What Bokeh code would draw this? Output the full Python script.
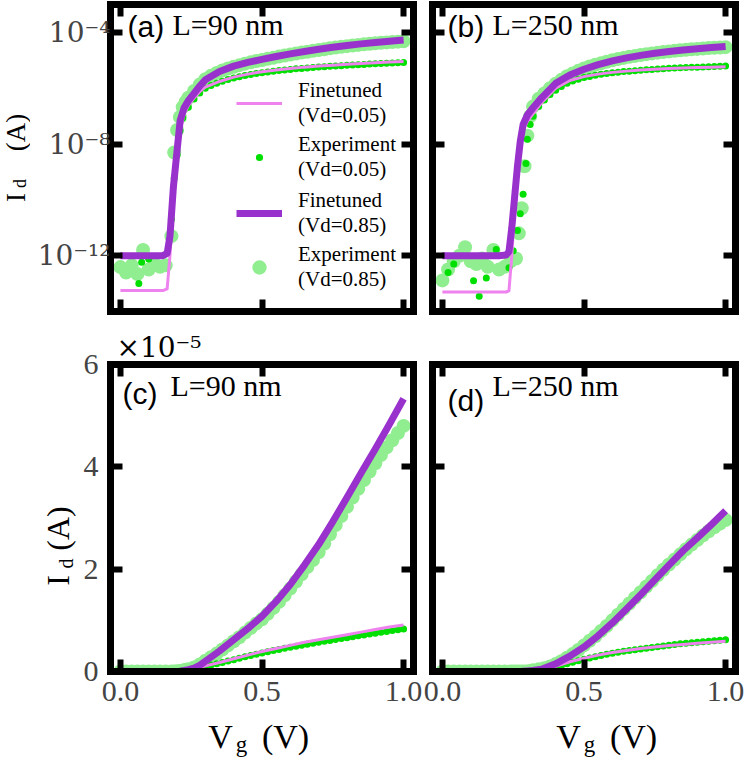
from math import pi
from bokeh.plotting import figure
from bokeh.layouts import row, column
from bokeh.models import (Range1d, FixedTicker, LinearAxis, LogAxis, Label, Legend, Title,
                          LegendItem, CustomJSTickFormatter, PrintfTickFormatter)
from bokeh.embed import file_html
from bokeh.resources import INLINE

# ---------------- data (drain current in A vs gate voltage in V) ----------------
x_ticks = [0.0, 0.5, 1.0]
log_ticks = [1e-12, 1e-8, 1e-4]
lin_ticks = [0.0, 2e-5, 4e-5, 6e-5]

# L = 90 nm, fitted curves
vg_fit_90 = [0.00, 0.05, 0.10, 0.15, 0.165, 0.175, 0.187, 0.199, 0.211, 0.225, 0.24, 0.26,
             0.28, 0.30, 0.35, 0.40, 0.45, 0.50, 0.55, 0.60, 0.65, 0.70, 0.75, 0.80, 0.85,
             0.90, 0.95, 1.00]
fit_90_vd085 = [1.0e-12, 1.0e-12, 1.0e-12, 1.0e-12, 1.2e-12, 5.0e-12, 2.8e-10, 4.5e-9, 7.0e-8,
                2.0e-7, 3.6e-7, 6.5e-7, 1.2e-6, 2.0e-6, 4.0e-6, 6.2e-6, 8.4e-6, 1.08e-5, 1.37e-5,
                1.70e-5, 2.08e-5, 2.48e-5, 2.93e-5, 3.40e-5, 3.88e-5, 4.35e-5, 4.83e-5, 5.33e-5]
fit_90_vd005 = [5.6e-14, 5.6e-14, 5.6e-14, 5.6e-14, 6.5e-14, 1.0e-12, 8.0e-11, 2.0e-9, 3.0e-8,
                1.2e-7, 2.4e-7, 4.5e-7, 7.5e-7, 1.1e-6, 1.75e-6, 2.5e-6, 3.2e-6, 3.9e-6, 4.5e-6,
                5.1e-6, 5.7e-6, 6.2e-6, 6.7e-6, 7.2e-6, 7.7e-6, 8.2e-6, 8.7e-6, 9.1e-6]

# L = 90 nm, experiment
vg_exp_90_vd085 = [0.00, 0.02, 0.04, 0.06, 0.08, 0.10, 0.12, 0.14, 0.16, 0.18, 0.19, 0.20, 0.21,
                   0.22, 0.23, 0.24, 0.26, 0.28, 0.30, 0.32, 0.34, 0.36, 0.38, 0.40, 0.42, 0.44,
                   0.46, 0.48, 0.50, 0.52, 0.54, 0.56, 0.58, 0.60, 0.62, 0.64, 0.66, 0.68, 0.70,
                   0.72, 0.74, 0.76, 0.78, 0.80, 0.82, 0.84, 0.86, 0.88, 0.90, 0.92, 0.94, 0.96,
                   0.98, 1.00]
exp_90_vd085 = [3.9e-13, 2.5e-13, 4.5e-13, 2.2e-13, 1.6e-12, 3.2e-13, 5.0e-13, 4.0e-13, 4.5e-13,
                5.0e-12, 5.0e-9, 3.2e-8, 9.3e-8, 2.1e-7, 3.2e-7, 4.6e-7, 8.0e-7, 1.35e-6, 2.1e-6,
                2.8e-6, 3.5e-6, 4.3e-6, 5.1e-6, 5.9e-6, 6.7e-6, 7.6e-6, 8.5e-6, 9.4e-6, 1.02e-5,
                1.13e-5, 1.24e-5, 1.36e-5, 1.49e-5, 1.62e-5, 1.76e-5, 1.90e-5, 2.04e-5, 2.18e-5,
                2.33e-5, 2.50e-5, 2.68e-5, 2.86e-5, 3.04e-5, 3.22e-5, 3.40e-5, 3.57e-5, 3.74e-5,
                3.91e-5, 4.07e-5, 4.23e-5, 4.38e-5, 4.52e-5, 4.66e-5, 4.80e-5]
vg_exp_90_vd005 = [0.065, 0.075, 0.10, 0.18, 0.19, 0.20, 0.21, 0.22, 0.24, 0.26, 0.28, 0.30,
                   0.32, 0.34, 0.36, 0.38, 0.40, 0.42, 0.44, 0.46, 0.48, 0.50, 0.52, 0.54, 0.56,
                   0.58, 0.60, 0.62, 0.64, 0.66, 0.68, 0.70, 0.72, 0.74, 0.76, 0.78, 0.80, 0.82,
                   0.84, 0.86, 0.88, 0.90, 0.92, 0.94, 0.96, 0.98, 1.00]
exp_90_vd005 = [1.0e-13, 5.8e-13, 7.6e-13, 2.0e-11, 6.0e-10, 4.0e-9, 3.0e-8, 8.5e-8, 2.1e-7,
                4.1e-7, 6.8e-7, 1.0e-6, 1.25e-6, 1.5e-6, 1.78e-6, 2.05e-6, 2.32e-6, 2.6e-6,
                2.87e-6, 3.13e-6, 3.38e-6, 3.62e-6, 3.85e-6, 4.08e-6, 4.3e-6, 4.52e-6, 4.73e-6,
                4.94e-6, 5.14e-6, 5.34e-6, 5.53e-6, 5.72e-6, 5.9e-6, 6.08e-6, 6.26e-6, 6.44e-6,
                6.62e-6, 6.8e-6, 6.97e-6, 7.14e-6, 7.31e-6, 7.48e-6, 7.65e-6, 7.82e-6, 7.99e-6,
                8.16e-6, 8.33e-6]

# L = 250 nm, fitted curves
vg_fit_250 = [0.00, 0.05, 0.10, 0.15, 0.20, 0.225, 0.235, 0.245, 0.255, 0.265, 0.275, 0.285,
              0.30, 0.32, 0.35, 0.40, 0.45, 0.50, 0.55, 0.60, 0.65, 0.70, 0.75, 0.80, 0.85,
              0.90, 0.95, 1.00]
fit_250_vd085 = [1.0e-12, 1.0e-12, 1.0e-12, 1.0e-12, 1.0e-12, 1.05e-12, 1.4e-12, 1.0e-11,
                 1.26e-10, 1.6e-9, 1.26e-8, 5.0e-8, 1.1e-7, 2.0e-7, 4.5e-7, 1.5e-6, 3.0e-6,
                 4.8e-6, 7.0e-6, 9.5e-6, 1.22e-5, 1.50e-5, 1.79e-5, 2.08e-5, 2.36e-5, 2.61e-5,
                 2.87e-5, 3.14e-5]
fit_250_vd005 = [5.0e-14, 5.0e-14, 5.0e-14, 5.0e-14, 5.0e-14, 5.0e-14, 5.5e-14, 1.0e-12,
                 5.0e-11, 1.0e-9, 8.0e-9, 3.0e-8, 6.5e-8, 1.2e-7, 3.0e-7, 1.0e-6, 1.9e-6,
                 2.6e-6, 3.2e-6, 3.7e-6, 4.1e-6, 4.5e-6, 4.8e-6, 5.1e-6, 5.3e-6, 5.5e-6,
                 5.7e-6, 5.9e-6]

# L = 250 nm, experiment
vg_exp_250_vd085 = [0.00, 0.02, 0.04, 0.06, 0.08, 0.10, 0.12, 0.14, 0.16, 0.18, 0.20, 0.22,
                    0.24, 0.25, 0.26, 0.27, 0.28, 0.29, 0.30, 0.31, 0.32, 0.34, 0.36, 0.38,
                    0.40, 0.42, 0.44, 0.46, 0.48, 0.50, 0.52, 0.54, 0.56, 0.58, 0.60, 0.62,
                    0.64, 0.66, 0.68, 0.70, 0.72, 0.74, 0.76, 0.78, 0.80, 0.82, 0.84, 0.86,
                    0.88, 0.90, 0.92, 0.94, 0.96, 0.98, 1.00]
exp_250_vd085 = [1.3e-13, 3.2e-13, 6.3e-13, 1.0e-12, 2.0e-12, 6.3e-13, 5.0e-13, 7.9e-13,
                 4.0e-13, 1.6e-12, 3.2e-13, 4.0e-13, 6.3e-13, 7.9e-13, 7.9e-13, 6.3e-12,
                 5.0e-11, 1.6e-9, 2.0e-8, 1.0e-7, 2.2e-7, 4.2e-7, 6.5e-7, 1.0e-6, 1.45e-6,
                 2.0e-6, 2.7e-6, 3.4e-6, 4.2e-6, 5.1e-6, 6.0e-6, 6.9e-6, 7.9e-6, 8.9e-6,
                 1.00e-5, 1.11e-5, 1.22e-5, 1.33e-5, 1.44e-5, 1.55e-5, 1.66e-5, 1.77e-5,
                 1.88e-5, 1.99e-5, 2.09e-5, 2.19e-5, 2.29e-5, 2.39e-5, 2.48e-5, 2.57e-5,
                 2.66e-5, 2.74e-5, 2.82e-5, 2.89e-5, 2.96e-5]
vg_exp_250_vd005 = [0.02, 0.04, 0.11, 0.13, 0.155, 0.19, 0.235, 0.25, 0.265, 0.275, 0.285,
                    0.295, 0.30, 0.31, 0.32, 0.34, 0.36, 0.38, 0.40, 0.42, 0.44, 0.46, 0.48,
                    0.50, 0.52, 0.54, 0.56, 0.58, 0.60, 0.62, 0.64, 0.66, 0.68, 0.70, 0.72,
                    0.74, 0.76, 0.78, 0.80, 0.82, 0.84, 0.86, 0.88, 0.90, 0.92, 0.94, 0.96,
                    0.98, 1.00]
exp_250_vd005 = [2.5e-13, 5.0e-13, 1.26e-13, 3.5e-14, 1.6e-13, 1.66e-12, 3.7e-13, 1.5e-12,
                 8.0e-12, 3.2e-11, 1.6e-10, 2.0e-9, 1.5e-8, 5.0e-8, 1.0e-7, 2.2e-7, 3.8e-7,
                 6.0e-7, 8.5e-7, 1.15e-6, 1.5e-6, 1.8e-6, 2.1e-6, 2.4e-6, 2.65e-6, 2.9e-6,
                 3.15e-6, 3.35e-6, 3.55e-6, 3.75e-6, 3.95e-6, 4.1e-6, 4.25e-6, 4.4e-6, 4.55e-6,
                 4.7e-6, 4.85e-6, 5.0e-6, 5.15e-6, 5.3e-6, 5.4e-6, 5.5e-6, 5.6e-6, 5.7e-6,
                 5.8e-6, 5.9e-6, 6.0e-6, 6.1e-6, 6.2e-6]

for a, b in [(vg_fit_90, fit_90_vd085), (vg_fit_90, fit_90_vd005), (vg_exp_90_vd085, exp_90_vd085),
             (vg_exp_90_vd005, exp_90_vd005), (vg_fit_250, fit_250_vd085), (vg_fit_250, fit_250_vd005),
             (vg_exp_250_vd085, exp_250_vd085), (vg_exp_250_vd005, exp_250_vd005)]:
    assert len(a) == len(b), (len(a), len(b))

# ---------------- style ----------------
SERIF = "Liberation Serif"
SANS = "Liberation Sans"
MATH = "DejaVu Serif"
C_BIG = "#90ee90"
C_SMALL = "#00e000"
C_PINK = "#ee82ee"
C_PURPLE = "#9932cc"
FRAME_W, FRAME_H = 303, 307

TOP_H = 327          # height of the top row
BOT_TOP = 37         # top border of the bottom panels (holds the x10^-5 title)
BOT_BOT = 45         # bottom border of the bottom panels
BOT_H = BOT_TOP + FRAME_H + BOT_BOT
XLAB_H = 762 - TOP_H - BOT_H
YLAB_TOP_W = 30
YLAB_BOT_W = 80

SUP_JS = ("const s={'-':'\u207b','0':'\u2070','1':'\u00b9','2':'\u00b2','3':'\u00b3',"
          "'4':'\u2074','5':'\u2075','6':'\u2076','7':'\u2077','8':'\u2078','9':'\u2079'};"
          "const e=Math.round(Math.log10(tick));"
          "return '10'+String(e).split('').map(c=>s[c]).join('');")


def style_axis(ax, ticks):
    ax.ticker = FixedTicker(ticks=ticks)
    ax.axis_line_color = "black"
    ax.axis_line_width = 7
    ax.axis_line_cap = "square"
    ax.major_tick_in = 12
    ax.major_tick_out = 0
    ax.major_tick_line_width = 6
    ax.major_tick_line_color = "black"
    ax.minor_tick_line_color = None


def hide_labels(ax):
    ax.formatter = CustomJSTickFormatter(code="return ''")
    ax.major_label_text_font_size = "1px"
    ax.major_label_standoff = 0


def add_label(p, text, x, y, font, size, angle=0.0, align="left", baseline="alphabetic"):
    p.add_layout(Label(x=x, y=y, x_units="screen", y_units="screen", text=text,
                       text_font=font, text_font_size=f"{size}px", text_color="black",
                       text_align=align, text_baseline=baseline, angle=angle))


def centered(p, text, x, y, font, size, angle=0.0):
    add_label(p, text, x, y, font, size, angle, "center", "middle")


def make_panel(log, show_x, show_y, mb, data):
    kw = dict(frame_width=FRAME_W, frame_height=FRAME_H, output_backend="svg",
              toolbar_location=None, x_range=Range1d(-0.035, 1.035),
              min_border_left=mb[0], min_border_right=mb[1], min_border_top=mb[2],
              min_border_bottom=mb[3], background_fill_color="white",
              border_fill_color="white")
    if log:
        p = figure(y_axis_type="log", y_range=Range1d(1e-14, 1e-3), **kw)
    else:
        p = figure(y_range=Range1d(0, 6e-5), **kw)
    p.outline_line_color = None
    p.grid.visible = False
    p.add_layout(LogAxis() if log else LinearAxis(), "right")
    p.add_layout(LinearAxis(), "above")
    for ax in p.xaxis:
        style_axis(ax, x_ticks)
    for ax in p.yaxis:
        style_axis(ax, log_ticks if log else lin_ticks)
    hide_labels(p.right[0])
    hide_labels(p.above[0])
    bx = p.below[0]
    ly = p.left[0]
    if show_x:
        bx.formatter = PrintfTickFormatter(format="%.1f")
        bx.major_label_text_font = SERIF
        bx.major_label_text_font_size = "30px"
        bx.major_label_standoff = 10
    else:
        hide_labels(bx)
    if show_y:
        if log:
            ly.formatter = CustomJSTickFormatter(code=SUP_JS)
            ly.major_label_text_font = MATH
            ly.major_label_text_font_size = "28px"
            ly.major_label_standoff = 0
        else:
            ly.formatter = CustomJSTickFormatter(code="return (tick/1e-5).toFixed(0);")
            ly.major_label_text_font = SERIF
            ly.major_label_text_font_size = "30px"
            ly.major_label_standoff = 12
    else:
        hide_labels(ly)

    vf, f085, f005, vb, e085, vs, e005 = data
    r_big = p.scatter(vb, e085, size=14, color=C_BIG, line_color=None)
    r_small = p.scatter(vs, e005, size=7, color=C_SMALL, line_color=None)
    r_pink = p.line(vf, f005, line_width=3, color=C_PINK, line_join="round")
    r_purple = p.line(vf, f085, line_width=7, color=C_PURPLE, line_join="round")
    return p, (r_pink, r_small, r_purple, r_big)


def text_strip(w, h):
    p = figure(frame_width=w, frame_height=h, min_border=0, output_backend="svg",
               toolbar_location=None, x_axis_location=None, y_axis_location=None,
               x_range=Range1d(0, 1), y_range=Range1d(0, 1),
               background_fill_color="white", border_fill_color="white")
    p.outline_line_color = None
    p.grid.visible = False
    return p


data_90 = (vg_fit_90, fit_90_vd085, fit_90_vd005, vg_exp_90_vd085, exp_90_vd085,
           vg_exp_90_vd005, exp_90_vd005)
data_250 = (vg_fit_250, fit_250_vd085, fit_250_vd005, vg_exp_250_vd085, exp_250_vd085,
            vg_exp_250_vd005, exp_250_vd005)

top_bb = TOP_H - 4 - FRAME_H
pa, ra = make_panel(True, False, True, (110 - YLAB_TOP_W, 10, 4, top_bb), data_90)
pb, rb = make_panel(True, False, False, (9, 10, 4, top_bb), data_250)
pc, rc = make_panel(False, True, True, (110 - YLAB_BOT_W, 10, BOT_TOP, BOT_BOT), data_90)
pd, rd = make_panel(False, True, False, (9, 10, BOT_TOP, BOT_BOT), data_250)

# panel titles
add_label(pa, "(a)", 17, 285, SANS, 30)
add_label(pa, "L=90 nm", 62, 287, SERIF, 30)
add_label(pb, "(b)", 15, 285, SANS, 30)
add_label(pb, "L=250 nm", 60, 287, SERIF, 30)
add_label(pc, "(c)", 12, 278, SANS, 30)
add_label(pc, "L=90 nm", 60, 286, SERIF, 30)
add_label(pd, "(d)", 15, 271, SANS, 30)
add_label(pd, "L=250 nm", 60, 286, SERIF, 30)

# scale factor of panel (c)
pc.add_layout(Title(text="\u00d710\u207b\u2075", align="left", offset=6, standoff=2,
                    text_font=MATH, text_font_size="28px", text_font_style="normal",
                    text_color="black"), "above")

# y axis titles  I_d (A)  (centres of the pieces, measured from the strip's bottom-left)
fy_top = text_strip(YLAB_TOP_W, TOP_H)
centered(fy_top, "I", 15, TOP_H - 193, SERIF, 27, pi / 2)
centered(fy_top, "d", 19.5, TOP_H - 179, SERIF, 18, pi / 2)
centered(fy_top, "(A)", 15, TOP_H - 128, SERIF, 27, pi / 2)

fy_bot = text_strip(YLAB_BOT_W, BOT_H)
bot_abs = TOP_H + BOT_H
centered(fy_bot, "I", 57, bot_abs - 543, SERIF, 32, pi / 2)
centered(fy_bot, "d", 65, bot_abs - 526, SERIF, 20, pi / 2)
centered(fy_bot, "(A)", 57, bot_abs - 491, SERIF, 32, pi / 2)

# x axis titles  V_g (V)
fx = text_strip(745, XLAB_H)
for xv, xg, xp in ((220, 241, 285), (568, 589, 633)):
    centered(fx, "V", xv, 26.5, SERIF, 34)
    centered(fx, "g", xg, 17.8, SERIF, 23)
    centered(fx, "(V)", xp, 26.5, SERIF, 34)

# legend (one Legend per entry so that marker sizes differ)
legend_specs = [
    (ra[0], "Finetuned\n(Vd=0.05)", 20, 183),
    (ra[1], "Experiment\n(Vd=0.05)", 18, 129),
    (ra[2], "Finetuned\n(Vd=0.85)", 20, 73),
    (ra[3], "Experiment\n(Vd=0.85)", 36, 19),
]
for rend, text, gh, vy in legend_specs:
    leg = Legend(items=[LegendItem(label=text, renderers=[rend])], location=(126, vy),
                 background_fill_alpha=0, border_line_alpha=0, padding=0, margin=0,
                 spacing=0, glyph_width=46, glyph_height=gh, label_standoff=16,
                 label_text_font=SERIF, label_text_font_size="21px",
                 label_text_line_height=0.8, label_text_color="black")
    pa.add_layout(leg)

layout = column(row(fy_top, pa, pb), row(fy_bot, pc, pd), fx)
open("out.html", "w").write(file_html(layout, INLINE))
